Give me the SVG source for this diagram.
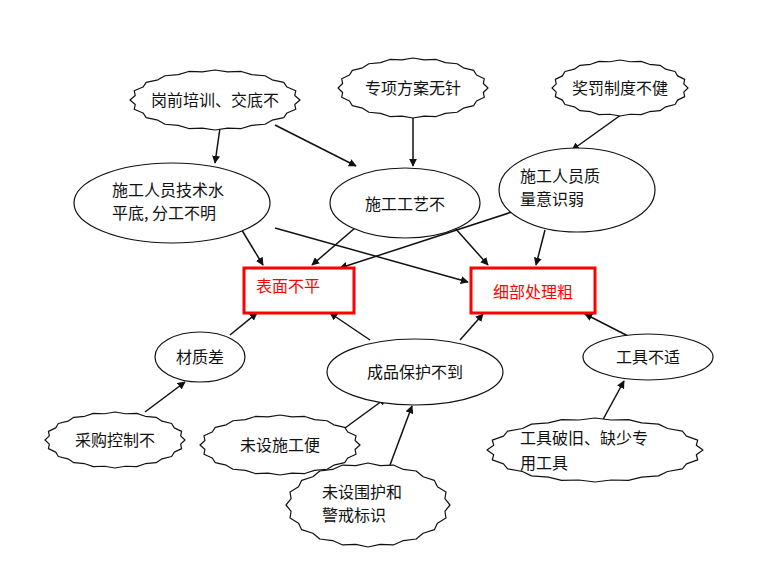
<svg xmlns="http://www.w3.org/2000/svg" xmlns:xlink="http://www.w3.org/1999/xlink" width="760" height="570" viewBox="0 0 760 570">
<style>
text{font-family:"Noto Sans CJK SC","Liberation Sans",sans-serif;font-size:16px;fill:#111}
.e{fill:#fff;stroke:#111;stroke-width:1.2}
.w{fill:#fff;stroke:#111;stroke-width:1.2;vector-effect:non-scaling-stroke;stroke-linejoin:round}
.r{fill:#fff;stroke:#f00;stroke-width:3}
.rt{fill:#f00}
.c line{stroke:#111;stroke-width:1.5;marker-end:url(#a)}
</style>
<defs>
<marker id="a" viewBox="0 0 10 10" refX="9" refY="5" markerWidth="8" markerHeight="8" orient="auto" markerUnits="userSpaceOnUse"><path d="M0,0L10,5L0,10z" fill="#111"/></marker>
<path id="wv" class="w" d="M100,0L93.8,14.9L95.1,30.9L84.7,43.2L80.9,58.8L67.2,67.2L58.8,80.9L43.2,84.7L30.9,95.1L14.9,93.8L0,100L-14.9,93.8L-30.9,95.1L-43.2,84.7L-58.8,80.9L-67.2,67.2L-80.9,58.8L-84.7,43.2L-95.1,30.9L-93.8,14.9L-100,0L-93.8,-14.9L-95.1,-30.9L-84.7,-43.2L-80.9,-58.8L-67.2,-67.2L-58.8,-80.9L-43.2,-84.7L-30.9,-95.1L-14.9,-93.8L0,-100L14.9,-93.8L30.9,-95.1L43.2,-84.7L58.8,-80.9L67.2,-67.2L80.9,-58.8L84.7,-43.2L95.1,-30.9L93.8,-14.9Z"/>
</defs>
<rect width="760" height="570" fill="#fff"/>
<g class="c">
<line x1="220" y1="128" x2="215" y2="163"/>
<line x1="275" y1="125" x2="356" y2="166"/>
<line x1="413" y1="110" x2="413" y2="166"/>
<line x1="625" y1="112" x2="572" y2="150"/>
<line x1="240" y1="227" x2="263" y2="265"/>
<line x1="275" y1="228" x2="468" y2="282"/>
<line x1="355" y1="228" x2="312" y2="265"/>
<line x1="455" y1="228" x2="488" y2="265"/>
<line x1="512" y1="212" x2="340" y2="268"/>
<line x1="545" y1="230" x2="536" y2="265"/>
<line x1="230" y1="335" x2="257" y2="313"/>
<line x1="370" y1="340" x2="330" y2="313"/>
<line x1="460" y1="340" x2="483" y2="314"/>
<line x1="628" y1="336" x2="585" y2="314"/>
<line x1="145" y1="412" x2="185" y2="382"/>
<line x1="345" y1="428" x2="386" y2="398"/>
<line x1="390" y1="465" x2="412" y2="406"/>
<line x1="600" y1="425" x2="624" y2="381"/>
</g>
<g id="n1"><use xlink:href="#wv" transform="translate(215,100) scale(0.85,0.3)"/><text x="215" y="106" text-anchor="middle">岗前培训、交底不</text></g>
<g id="n2"><use xlink:href="#wv" transform="translate(413,88) scale(0.75,0.3)"/><text x="413" y="94" text-anchor="middle">专项方案无针</text></g>
<g id="n3"><use xlink:href="#wv" transform="translate(620,88) scale(0.68,0.28)"/><text x="620" y="94" text-anchor="middle">奖罚制度不健</text></g>
<g id="n4"><ellipse class="e" cx="172" cy="203" rx="98" ry="40"/><text x="112" y="196">施工人员技术水</text><text x="112" y="219">平底, 分工不明</text></g>
<g id="n5"><ellipse class="e" cx="405" cy="203" rx="75" ry="35"/><text x="405" y="210" text-anchor="middle">施工工艺不</text></g>
<g id="n6"><ellipse class="e" cx="577" cy="190" rx="78" ry="42"/><text x="520" y="182">施工人员质</text><text x="520" y="205">量意识弱</text></g>
<g id="n7"><rect class="r" x="244" y="268" width="110" height="45"/><text class="rt" x="256" y="292">表面不平</text></g>
<g id="n8"><rect class="r" x="471" y="268" width="124" height="45"/><text class="rt" x="533" y="298" text-anchor="middle">细部处理粗</text></g>
<g id="n9"><ellipse class="e" cx="200" cy="357" rx="45" ry="25"/><text x="200" y="363" text-anchor="middle">材质差</text></g>
<g id="n10"><ellipse class="e" cx="415" cy="372" rx="88" ry="33"/><text x="415" y="378" text-anchor="middle">成品保护不到</text></g>
<g id="n11"><ellipse class="e" cx="648" cy="357" rx="65" ry="23"/><text x="648" y="363" text-anchor="middle">工具不适</text></g>
<g id="n12"><use xlink:href="#wv" transform="translate(115,440) scale(0.7,0.28)"/><text x="115" y="446" text-anchor="middle">采购控制不</text></g>
<g id="n13"><use xlink:href="#wv" transform="translate(280,445) scale(0.8,0.3)"/><text x="280" y="451" text-anchor="middle">未设施工便</text></g>
<g id="n14"><use xlink:href="#wv" transform="translate(368,505) scale(0.82,0.42)"/><text x="322" y="498">未设围护和</text><text x="322" y="521">警戒标识</text></g>
<g id="n15"><use xlink:href="#wv" transform="translate(595,450) scale(1.08,0.32)"/><text x="520" y="444">工具破旧、缺少专</text><text x="520" y="469" font-size="14">用工具</text></g>
</svg>
